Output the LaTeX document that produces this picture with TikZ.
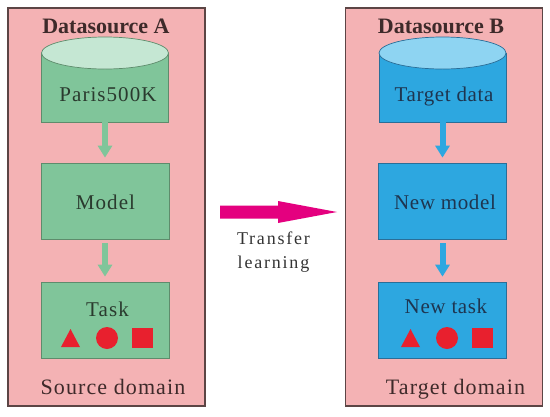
\documentclass[tikz,border=0pt]{standalone}
\usepackage{fontspec}
\setmainfont{Liberation Serif}
\usetikzlibrary{arrows.meta,shapes.geometric,calc}
\definecolor{pinkbg}{HTML}{F4B2B4}
\definecolor{panelline}{HTML}{5C4545}
\definecolor{gbody}{HTML}{80C59A}
\definecolor{gtop}{HTML}{C5E7D3}
\definecolor{gline}{HTML}{5E8C6C}
\definecolor{bbody}{HTML}{2DA7E0}
\definecolor{btop}{HTML}{8ED4F2}
\definecolor{bline}{HTML}{2A6E98}
\definecolor{magarrow}{HTML}{E4007F}
\definecolor{redshape}{HTML}{E8202E}
\definecolor{txtbrown}{HTML}{3E2A2A}
\definecolor{txtdark}{HTML}{2A3A2E}
\definecolor{txtblue}{HTML}{1E3550}
\definecolor{txtgray}{HTML}{333333}
\begin{document}
\begin{tikzpicture}[x=1pt,y=-1pt,
  panel/.style={draw=panelline, line width=1.5pt, fill=pinkbg, minimum width=197pt, minimum height=398pt, inner sep=0pt},
  gbox/.style={draw=gline, line width=0.7pt, fill=gbody, minimum width=128pt, minimum height=76pt, inner sep=0pt},
  bbox/.style={draw=bline, line width=0.7pt, fill=bbody, minimum width=128pt, minimum height=76pt, inner sep=0pt},
  gbody/.style={draw=gline, line width=0.7pt, fill=gbody, minimum width=127pt, minimum height=69pt, inner sep=0pt},
  bbodyst/.style={draw=bline, line width=0.7pt, fill=bbody, minimum width=127pt, minimum height=69pt, inner sep=0pt},
  gtopst/.style={ellipse, draw=gline, line width=0.7pt, fill=gtop, minimum width=127pt, minimum height=32pt, inner sep=0pt},
  btopst/.style={ellipse, draw=bline, line width=0.7pt, fill=btop, minimum width=127pt, minimum height=32pt, inner sep=0pt},
  titlest/.style={anchor=base, inner sep=0pt, text=txtbrown, font=\fontsize{22}{26}\selectfont\bfseries},
  domst/.style={anchor=base, inner sep=0pt, text=txtbrown, font=\fontsize{22}{26}\selectfont\addfontfeatures{LetterSpace=5}},
  boxtxt/.style={anchor=base, inner sep=0pt, text=txtdark, font=\fontsize{21}{25}\selectfont\addfontfeatures{LetterSpace=5}},
  boxtxtb/.style={anchor=base, inner sep=0pt, text=txtblue, font=\fontsize{21}{25}\selectfont\addfontfeatures{LetterSpace=3}},
  garrow/.style={draw=gbody, line width=6pt, -{Triangle[width=14pt,length=12pt]}},
  barrow/.style={draw=bbody, line width=6pt, -{Triangle[width=14pt,length=12pt]}},
  redfill/.style={fill=redshape, draw=none}
]
\useasboundingbox (0,0) rectangle (550,416);
\fill[white] (0,0) rectangle (550,416);

% panels
\node[panel] (panelA) at (106.5,207) {};
\node[panel] (panelB) at (444,207) {};

% titles
\node[titlest] (titleA) at (106,33) {Datasource A};
\node[titlest] (titleB) at (441,33) {Datasource B};

% left column
\node[gbody] (dbA) at (105,87.5) {};
\node[gtopst] (dbAtop) at (105,53) {};
\node[boxtxt] (dbAtxt) at (108,101) {Paris500K};
\node[gbox] (modelA) at (105,201) {};
\node[boxtxt] (modelAtxt) at (105.5,209) {Model};
\node[gbox] (taskA) at (105,320) {};
\node[boxtxt] (taskAtxt) at (107.5,316) {Task};
\fill[redfill] (61,347) -- (70.5,329) -- (80,347) -- cycle;
\node[circle, redfill, minimum size=22pt, inner sep=0pt] (circA) at (107,338) {};
\node[rectangle, redfill, minimum width=21pt, minimum height=20pt, inner sep=0pt] (sqA) at (142.5,338) {};
\node[domst] (domA) at (113,394) {Source domain};

\draw[garrow, shorten >=5pt] (dbA.south) -- (modelA.north);
\draw[garrow, shorten <=4pt, shorten >=5pt] (modelA.south) -- (taskA.north);

% right column
\node[bbodyst] (dbB) at (442.5,87.5) {};
\node[btopst] (dbBtop) at (442.5,53) {};
\node[boxtxtb] (dbBtxt) at (444,101) {Target data};
\node[bbox] (modelB) at (442.5,201) {};
\node[boxtxtb] (modelBtxt) at (445,209) {New model};
\node[bbox] (taskB) at (442.5,320) {};
\node[boxtxtb] (taskBtxt) at (446,313) {New task};
\fill[redfill] (401,347) -- (410.5,329) -- (420,347) -- cycle;
\node[circle, redfill, minimum size=22pt, inner sep=0pt] (circB) at (447,338) {};
\node[rectangle, redfill, minimum width=21pt, minimum height=20pt, inner sep=0pt] (sqB) at (482.5,338) {};
\node[domst] (domB) at (455.5,394) {Target domain};

\draw[barrow, shorten >=5pt] (dbB.south) -- (modelB.north);
\draw[barrow, shorten <=4pt, shorten >=5pt] (modelB.south) -- (taskB.north);

% transfer arrow
\coordinate (tstart) at (220,212);
\coordinate (tend) at (337,212);
\fill[magarrow] ($(tstart)+(0,-6.5)$) -- ($(tend)+(-59,-6.5)$) -- ($(tend)+(-59,-11)$)
  -- (tend) -- ($(tend)+(-59,11)$) -- ($(tend)+(-59,6.5)$) -- ($(tstart)+(0,6.5)$) -- cycle;
\node[anchor=base, inner sep=0pt, text=txtgray, align=center, font=\fontsize{18}{24}\selectfont\addfontfeatures{LetterSpace=10}] (tl) at (273.5,268) {Transfer\\learning};
\end{tikzpicture}
\end{document}
